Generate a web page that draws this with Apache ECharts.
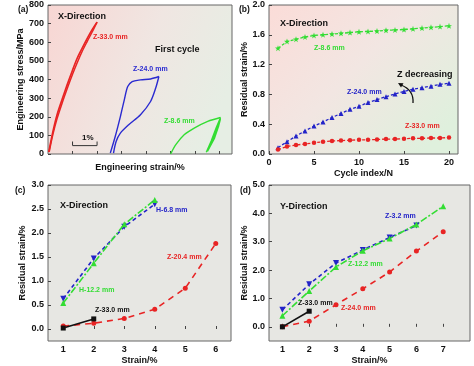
<!DOCTYPE html>
<html><head><meta charset="utf-8">
<script src="https://cdn.jsdelivr.net/npm/echarts@6/dist/echarts.min.js"></script>
<style>html,body{margin:0;padding:0;background:#fff}#c{width:474px;height:366px}</style>
</head><body><div id="c"></div>
<script>
// ---------- Panel (a): first-cycle stress-strain loops (strain %, stress MPa)
const redLoad   = [[0.03,10],[0.2,120],[0.37,211],[0.58,295],[0.78,371],[1.0,450],[1.19,514],[1.4,570],[1.6,621],[1.8,668],[2.0,708]];
const redUnload = [[2.0,708],[1.8,655],[1.6,605],[1.4,553],[1.19,490],[1.0,428],[0.78,350],[0.58,275],[0.37,190],[0.2,105],[0.05,12]];
const blueLoad   = [[2.54,5],[2.74,94],[2.95,201],[3.11,291],[3.25,362],[3.43,389],[3.77,398],[4.18,403],[4.52,416]];
const blueUnload = [[4.52,416],[4.39,354],[4.18,282],[3.77,211],[3.29,157],[2.95,112],[2.78,68],[2.67,5]];
const greenLoad  = [[5.0,0],[5.21,50],[5.55,103],[5.96,139],[6.51,175],[7.03,196]];
const greenCycle = [[7.03,196],[6.85,140],[6.65,70],[6.45,10],[6.52,12],[6.74,80],[6.93,150],[7.03,192],
                    [6.88,138],[6.69,72],[6.5,14],[6.58,16],[6.79,85],[6.96,152],[7.03,188]];
const scaleBar   = [[1,45],[2,45]];

// ---------- Panel (b): residual strain vs cycle index
const cycles = [1,2,3,4,5,6,7,8,9,10,11,12,13,14,15,16,17,18,19,20];
const bZ86   = [1.42,1.51,1.54,1.57,1.59,1.60,1.61,1.62,1.63,1.64,1.645,1.65,1.66,1.665,1.67,1.68,1.69,1.70,1.71,1.72];
const bZ240  = [0.085,0.165,0.24,0.31,0.375,0.43,0.49,0.545,0.60,0.64,0.69,0.73,0.77,0.805,0.84,0.87,0.89,0.91,0.935,0.95];
const bZ330  = [0.06,0.10,0.12,0.135,0.15,0.165,0.175,0.18,0.185,0.19,0.19,0.195,0.20,0.20,0.205,0.21,0.21,0.215,0.215,0.22];

// ---------- Panel (c): X-direction residual strain vs strain
const cStrain = [1,2,3,4,5,6];
const cH68   = [0.63,1.47,2.13,2.60];
const cH122  = [0.54,1.37,2.18,2.69];
const cZ204  = [0.06,0.12,0.22,0.41,0.85,1.78];
const cZ330  = [0.02,0.21];

// ---------- Panel (d): Y-direction residual strain vs strain
const dStrain = [1,2,3,4,5,6,7];
const dZ32   = [0.60,1.50,2.25,2.71,3.15,3.57];
const dZ122  = [0.39,1.26,2.11,2.68,3.11,3.61,4.25];
const dZ240  = [0.0,0.20,0.78,1.34,1.93,2.67,3.35];
const dZ330  = [0.0,0.55];

const pair = (xs, ys) => ys.map((v,i)=>[xs[i], v]);

const RED='#e82424', BLUE='#2323c8', GREEN='#33dd33', BLACK='#111';
const FONT='Liberation Sans';
const chart = echarts.init(document.getElementById('c'));

function grad(stops, x2, y2){ return new echarts.graphic.LinearGradient(0,0,x2,y2,stops); }
function yAx(gi, o){
  return Object.assign({type:'value', gridIndex:gi, nameLocation:'middle', nameRotate:90,
    nameTextStyle:{fontFamily:FONT,fontWeight:'bold',fontSize:9,color:'#111'},
    axisLine:{show:false}, splitLine:{show:false},
    axisTick:{inside:true,length:3,lineStyle:{color:'#444'}},
    axisLabel:{fontFamily:FONT,fontWeight:'bold',fontSize:9,color:'#111',margin:4}}, o);
}
function xAx(gi, o){
  return Object.assign({type:'value', gridIndex:gi, nameLocation:'middle',
    nameTextStyle:{fontFamily:FONT,fontWeight:'bold',fontSize:9,color:'#111'},
    axisLine:{show:false}, splitLine:{show:false},
    axisTick:{inside:true,length:3,lineStyle:{color:'#444'}},
    axisLabel:{fontFamily:FONT,fontWeight:'bold',fontSize:9,color:'#111',margin:4}}, o);
}
function curve(data, color, extra){
  return Object.assign({type:'line', data, xAxisIndex:0, yAxisIndex:0, showSymbol:false, smooth:0.3,
    lineStyle:{color, width:1.4}, itemStyle:{color}, silent:true, animation:false}, extra);
}
function pts(data, gi, color, symbol, dash, extra){
  return Object.assign({type:'line', data, xAxisIndex:gi, yAxisIndex:gi, symbol, symbolSize:5,
    lineStyle:{color, width:1.6, type:dash}, itemStyle:{color}, animation:false}, extra);
}
function txt(x, y, s, color, size){
  return {type:'text', left:x, top:y, style:{text:s, fill:color, font:'bold '+(size||7)+'px "'+FONT+'"'}};
}

const gridBorder = {show:true, borderColor:'#666', borderWidth:1};
chart.setOption({
  animation:false,
  grid:[
    Object.assign({left:48, top:5, width:184, height:149,
      backgroundColor: grad([{offset:0,color:'#f8d6d3'},{offset:0.55,color:'#f0e6e2'},{offset:1,color:'#e6eee4'}],1,0.5)}, gridBorder),
    Object.assign({left:269, top:5, width:189, height:149,
      backgroundColor: grad([{offset:0,color:'#fbdcd8'},{offset:0.5,color:'#f2e6e2'},{offset:1,color:'#dff0dd'}],0.8,1)}, gridBorder),
    Object.assign({left:48, top:185, width:183, height:156, backgroundColor:'#e7e7e3'}, gridBorder),
    Object.assign({left:269, top:185, width:201, height:156, backgroundColor:'#e7e7e3'}, gridBorder)
  ],
  xAxis:[
    xAx(0,{min:0,max:7.5,name:'Engineering strain/%',nameGap:9,axisLabel:{show:false},
      axisTick:{inside:true,length:3,lineStyle:{color:'#444'},customValues:[1,2,3,4,5,6,7]}}),
    xAx(1,{min:0,max:21,name:'Cycle index/N',nameGap:15,
      axisLabel:{fontFamily:FONT,fontWeight:'bold',fontSize:9,color:'#111',margin:4,customValues:[0,5,10,15,20]},
      axisTick:{inside:true,length:3,lineStyle:{color:'#444'},customValues:[0,5,10,15,20]}}),
    xAx(2,{min:0.5,max:6.5,name:'Strain/%',nameGap:15,
      axisLabel:{fontFamily:FONT,fontWeight:'bold',fontSize:9,color:'#111',margin:4,customValues:[1,2,3,4,5,6]},
      axisTick:{inside:true,length:3,lineStyle:{color:'#444'},customValues:[1,2,3,4,5,6]}}),
    xAx(3,{min:0.5,max:8,name:'Strain/%',nameGap:15,
      axisLabel:{fontFamily:FONT,fontWeight:'bold',fontSize:9,color:'#111',margin:4,customValues:[1,2,3,4,5,6,7]},
      axisTick:{inside:true,length:3,lineStyle:{color:'#444'},customValues:[1,2,3,4,5,6,7]}})
  ],
  yAxis:[
    yAx(0,{min:0,max:800,interval:100,name:'Engineering stress/MPa',nameGap:23}),
    yAx(1,{min:0,max:2.0,interval:0.4,name:'Residual strain/%',nameGap:19,
      axisLabel:{fontFamily:FONT,fontWeight:'bold',fontSize:9,color:'#111',margin:4,formatter:v=>v.toFixed(1)}}),
    yAx(2,{min:-0.25,max:3.0,name:'Residual strain/%',nameGap:21,
      axisLabel:{fontFamily:FONT,fontWeight:'bold',fontSize:9,color:'#111',margin:4,customValues:[0,0.5,1,1.5,2,2.5,3],formatter:v=>v.toFixed(1)},
      axisTick:{inside:true,length:3,lineStyle:{color:'#444'},customValues:[0,0.5,1,1.5,2,2.5,3]}}),
    yAx(3,{min:-0.5,max:5.0,name:'Residual strain/%',nameGap:19,
      axisLabel:{fontFamily:FONT,fontWeight:'bold',fontSize:9,color:'#111',margin:4,customValues:[0,1,2,3,4,5],formatter:v=>v.toFixed(1)},
      axisTick:{inside:true,length:3,lineStyle:{color:'#444'},customValues:[0,1,2,3,4,5]}})
  ],
  series:[
    // (a)
    curve(redLoad, RED, {lineStyle:{color:RED,width:1.7}}), curve(redUnload, RED, {lineStyle:{color:RED,width:1.5}}),
    curve(blueLoad, '#2a2ad0'), curve(blueUnload, '#2a2ad0'),
    curve(greenLoad, GREEN), curve(greenCycle, GREEN, {smooth:false, lineStyle:{color:GREEN,width:1.3}}),
    {type:'line', data:scaleBar, xAxisIndex:0, yAxisIndex:0, symbol:'rect', symbolSize:[1,4], symbolOffset:[0,-2],
      lineStyle:{color:'#333',width:1}, itemStyle:{color:'#333'}, animation:false},
    // (b)
    pts(pair(cycles,bZ86), 1, GREEN, 'path://M0,-10L2.4,-3.1L9.5,-3.1L3.8,1.2L5.9,8.1L0,3.8L-5.9,8.1L-3.8,1.2L-9.5,-3.1L-2.4,-3.1Z', [3,2], {symbolSize:6, lineStyle:{color:GREEN,width:1.3,type:[3,2]}}),
    pts(pair(cycles,bZ240), 1, BLUE, 'triangle', [3,2], {lineStyle:{color:BLUE,width:1.3,type:[3,2]}}),
    pts(pair(cycles,bZ330), 1, RED, 'circle', [3,2], {symbolSize:4.5, lineStyle:{color:RED,width:1.3,type:[3,2]}}),
    // (c)
    pts(pair(cStrain,cH68), 2, BLUE, 'triangle', [4,3], {symbolRotate:180, symbolSize:6}),
    pts(pair(cStrain,cH122), 2, GREEN, 'triangle', [7,2,2,2], {symbolSize:6}),
    pts(pair(cStrain,cZ204), 2, RED, 'circle', [6,5]),
    pts(pair(cStrain,cZ330), 2, BLACK, 'rect', 'solid', {symbolSize:5}),
    // (d)
    pts(pair(dStrain,dZ32), 3, BLUE, 'triangle', [4,3], {symbolRotate:180, symbolSize:6}),
    pts(pair(dStrain,dZ122), 3, GREEN, 'triangle', [7,2,2,2], {symbolSize:6}),
    pts(pair(dStrain,dZ240), 3, RED, 'circle', [6,5]),
    pts(pair(dStrain,dZ330), 3, BLACK, 'rect', 'solid', {symbolSize:5})
  ],
  graphic:[
    // (a)
    txt(18,5,'(a)','#111',8.5),
    txt(58,12,'X-Direction','#111',9),
    txt(93,34,'Z-33.0 mm',RED),
    txt(155,45,'First cycle','#111',9),
    txt(133,66,'Z-24.0 mm','#2a2ad0'),
    txt(164,118,'Z-8.6 mm',GREEN),
    txt(82,134,'1%','#111',8),
    // (b)
    txt(239,5,'(b)','#111',8.5),
    txt(280,19,'X-Direction','#111',9),
    txt(314,45,'Z-8.6 mm',GREEN),
    txt(397,70,'Z decreasing','#111',9),
    txt(347,89,'Z-24.0 mm',BLUE),
    txt(405,123,'Z-33.0 mm',RED),
    {type:'bezierCurve', shape:{x1:413,y1:103,x2:401,y2:85,cpx1:414,cpy1:90}, style:{stroke:'#111',lineWidth:1.3,fill:null}},
    {type:'polygon', shape:{points:[[398,83],[403.5,83.3],[401,87.6]]}, style:{fill:'#111'}},
    // (c)
    txt(15,186,'(c)','#111',8.5),
    txt(60,201,'X-Direction','#111',9),
    txt(156,207,'H-6.8 mm',BLUE),
    txt(167,254,'Z-20.4 mm',RED),
    txt(79,287,'H-12.2 mm',GREEN),
    txt(95,307,'Z-33.0 mm',BLACK),
    // (d)
    txt(240,186,'(d)','#111',8.5),
    txt(280,202,'Y-Direction','#111',9),
    txt(385,213,'Z-3.2 mm',BLUE),
    txt(348,261,'Z-12.2 mm',GREEN),
    txt(298,300,'Z-33.0 mm',BLACK),
    txt(341,305,'Z-24.0 mm',RED)
  ]
});
</script></body></html>
